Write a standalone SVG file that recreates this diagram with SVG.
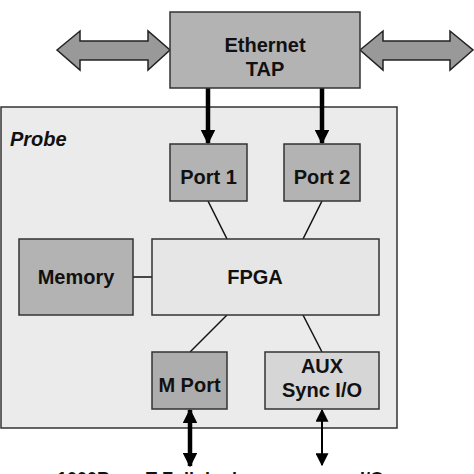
<svg xmlns="http://www.w3.org/2000/svg" width="474" height="474" viewBox="0 0 474 474">
<style>
.box{stroke:#333;stroke-width:1.5}
.t{font-family:"Liberation Sans",Arial,sans-serif;font-weight:bold;font-size:20px;fill:#111;text-anchor:middle}
.ln{stroke:#111;stroke-width:1.5;fill:none}
.thick{stroke:#000;stroke-width:4.5;fill:none}
.thin{stroke:#000;stroke-width:2;fill:none}
.dbl{fill:#999;stroke:#222;stroke-width:1.5}
.cap{font-family:"Liberation Sans",Arial,sans-serif;font-weight:bold;font-size:18px;fill:#111}
</style>
<defs>
<marker id="ah" viewBox="0 0 10 10" refX="9" refY="5" markerWidth="3.2" markerHeight="3.2" orient="auto-start-reverse" markerUnits="strokeWidth"><path d="M0,0 L10,5 L0,10 z" fill="#000"/></marker>
<marker id="ah2" viewBox="0 0 10 10" refX="9" refY="5" markerWidth="6.5" markerHeight="6.5" orient="auto-start-reverse" markerUnits="strokeWidth"><path d="M0,0 L10,5 L0,10 z" fill="#000"/></marker>
</defs>
<rect width="474" height="474" fill="#fff"/>
<g id="probe">
<rect class="box" x="1" y="107" width="396" height="321" fill="#ebebeb"/>
<text x="10" y="146" style="font-family:'Liberation Sans',Arial,sans-serif;font-weight:bold;font-style:italic;font-size:20px;fill:#111">Probe</text>
</g>
<g id="connectors">
<path class="dbl" d="M57,50 L80,31 L80,41 L148,41 L148,31 L170,50 L148,70 L148,60 L80,60 L80,70 Z"/>
<path class="dbl" d="M360,50 L383,31 L383,41 L450,41 L450,31 L473,50 L450,70 L450,60 L383,60 L383,70 Z"/>
<line class="thick" x1="208" y1="88" x2="208" y2="143" marker-end="url(#ah)"/>
<line class="thick" x1="322" y1="88" x2="322" y2="143" marker-end="url(#ah)"/>
<line class="ln" x1="208" y1="201" x2="227" y2="239"/>
<line class="ln" x1="322" y1="201" x2="303" y2="239"/>
<line class="ln" x1="133" y1="277" x2="152" y2="277"/>
<line class="ln" x1="227" y1="315" x2="190" y2="352"/>
<line class="ln" x1="303" y1="315" x2="322" y2="352"/>
<line class="thick" x1="190" y1="410" x2="190" y2="466" marker-start="url(#ah)" marker-end="url(#ah)"/>
<line class="thin" x1="322" y1="410" x2="322" y2="465" marker-start="url(#ah2)" marker-end="url(#ah2)"/>
</g>
<g id="tap">
<rect class="box" x="170" y="12" width="190" height="76" fill="#b3b3b3"/>
<text class="t" x="265" y="52">Ethernet</text>
<text class="t" x="265" y="76">TAP</text>
</g>
<g id="port1">
<rect class="box" x="170" y="144" width="77" height="57" fill="#b3b3b3"/>
<text class="t" x="208.5" y="184">Port 1</text>
</g>
<g id="port2">
<rect class="box" x="284" y="144" width="76" height="57" fill="#b3b3b3"/>
<text class="t" x="322" y="184">Port 2</text>
</g>
<g id="memory">
<rect class="box" x="19" y="239" width="114" height="76" fill="#b3b3b3"/>
<text class="t" x="76" y="284">Memory</text>
</g>
<g id="fpga">
<rect class="box" x="152" y="239" width="227" height="76" fill="#e6e6e6"/>
<text class="t" x="255" y="284">FPGA</text>
</g>
<g id="mport">
<rect class="box" x="152" y="352" width="75" height="57" fill="#adadad"/>
<text class="t" x="189.5" y="392">M Port</text>
</g>
<g id="aux">
<rect class="box" x="265" y="352" width="114" height="57" fill="#d6d6d6"/>
<text class="t" x="322" y="373">AUX</text>
<text class="t" x="322" y="397">Sync I/O</text>
</g>
<g id="caption">
<text class="cap" x="57" y="485">1000Base-T Full duplex</text>
<text class="cap" x="360" y="485">I/O</text>
</g>
</svg>
